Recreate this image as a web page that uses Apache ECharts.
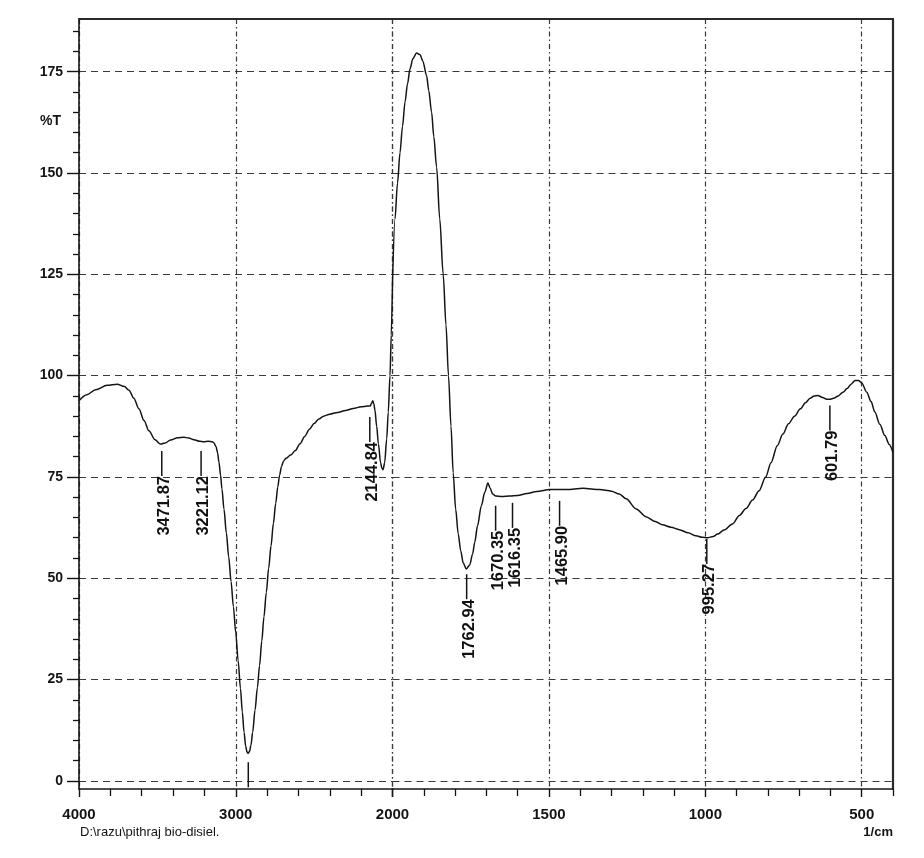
<!DOCTYPE html>
<html>
<head>
<meta charset="utf-8">
<script src="https://cdn.jsdelivr.net/npm/echarts@6/dist/echarts.min.js"></script>
<style>
html,body{margin:0;padding:0;background:#fff;}
#chart{width:924px;height:858px;}
</style>
</head>
<body>
<div id="chart"></div>
<script>
// ---- spectrum data (wavenumber 1/cm, %T) ----
const specWn = [4000,3950,3894,3820,3756,3710,3681,3650,3618,3585,3554,3515,3480,3450,3416,3370,3331,3300,3267,3230,3204,3175,3150,3139,3126,3116,3107,3097,3088,3075,3060,3045,3030,3015,3000,2985,2970,2958,2947,2937,2928,2920,2912,2903,2892,2877,2862,2848,2834,2820,2805,2790,2775,2760,2745,2732,2720,2708,2695,2680,2650,2620,2590,2560,2530,2500,2470,2440,2400,2350,2300,2250,2200,2160,2143,2133,2126,2119,2112,2101,2090,2076,2068,2060,2050,2037,2027,2016,2008,2000,
1992,1984,1976,1968,1960,1952,1944,1935,1923,1912,1903,1891,1884,1875,1868,1859,1849,1838,1829,1821,1813,1806,1798,1790,1782,1774,1764,1753,1744,1737,1728,1716,1705,1695,1688,1680,1670,1650,1626,1600,1570,1539,1497,1444,1391,1338,1300,1275,1253,1221,1190,1160,1137,1110,1083,1055,1030,1010,993,975,961,940,913,891,870,849,828,807,790,770,752,734,715,696,680,665,652,640,625,612,600,590,575,560,547,534,521,510,500,484,470,458,442,426,412,400];
const specT = [93.8,95.3,96.5,97.6,97.9,97.3,96.4,94.4,91.8,88.9,86.4,84.2,83.1,83.4,84.1,84.7,84.8,84.6,84.2,83.8,83.7,83.8,83.7,83.4,82.5,81.0,78.6,75.5,72.0,67.0,61.2,55.3,49.2,43.0,36.5,29.8,22.8,17.0,12.0,8.6,7.1,6.8,7.3,8.8,12.0,17.5,23.0,28.5,34.5,40.5,46.5,52.5,58.0,63.5,68.5,72.5,75.5,77.6,78.9,79.6,80.4,81.5,83.2,85.0,86.8,88.2,89.3,90.0,90.5,90.9,91.4,91.9,92.3,92.5,92.5,93.2,93.8,93.0,91.5,87.5,83.2,78.5,77.2,76.8,78.5,84.4,91.0,100,110,123,
138.7,147.5,155,161.5,167.5,172,175.7,178.2,179.6,179.2,177.6,174,170.3,165,159,151.5,138.7,125,112.5,100,87.5,76,67,61,56.8,53.8,52.3,53.3,56.0,58.9,63.0,67.9,71.2,73.5,72.3,70.8,70.3,70.2,70.3,70.4,70.9,71.4,71.9,71.9,72.2,71.9,71.5,70.8,69.6,67.1,65.2,64.0,63.2,62.6,62.0,61.2,60.5,60.1,60.0,60.3,60.9,61.9,63.4,65.5,67.2,69.3,71.6,75.0,78.5,82.7,85.6,88.1,90.0,91.8,93.3,94.4,95.0,95.1,94.6,94.2,94.2,94.4,95.0,95.9,96.8,97.9,98.8,98.8,98.2,95.9,93.6,91.0,88.0,85.2,83.0,81.0];

// ---- peak annotations ----
const peakWn     = [3471.87, 3221.12, 2920, 2144.84, 1762.94, 1670.35, 1616.35, 1465.90, 995.27, 601.79];
const peakLabels = ['3471.87','3221.12','', '2144.84','1762.94','1670.35','1616.35','1465.90','995.27','601.79'];
const peakTopT   = [81.4, 81.4, 4.6, 89.8, 51.0, 67.9, 68.6, 69.1, 59.7, 92.6];

// ---- axis ticks ----
const xMajorLeft   = [4000, 3000, 2000];
const xLabelsLeft  = [4000, 3000];
const xMinorLeft   = [3800,3600,3400,3200,2800,2600,2400,2200];
const xMajorRight  = [2000, 1500, 1000, 500];
const xLabelsRight = [2000, 1500, 1000, 500];
const xMinorRight  = [];
for (let v = 1900; v >= 400; v -= 100) if (v % 500 !== 0) xMinorRight.push(v);
const yMajor = [0, 25, 50, 75, 100, 125, 150, 175];
const yMinor = [];
for (let v = 0; v <= 185; v += 5) if (v % 25 !== 0) yMinor.push(v);

const Y_MIN = -2, Y_MAX = 188;

const leftData = [], rightData = [];
specWn.forEach((w, i) => {
  if (w >= 2000) leftData.push([w, specT[i]]);
  if (w <= 2000) rightData.push([w, specT[i]]);
});
const leftPeaks = [], rightPeaks = [];
peakWn.forEach((w, i) => {
  (w > 2000 ? leftPeaks : rightPeaks).push([w, peakTopT[i], i]);
});

const INK = '#141414';
const FONT = '"Liberation Sans", Arial, sans-serif';

function peakRender(params, api) {
  const p = api.coord([api.value(0), api.value(1)]);
  const idx = api.value(2);
  const len = 25;
  const children = [{
    type: 'line',
    shape: {x1: p[0], y1: p[1], x2: p[0], y2: p[1] + len},
    style: {stroke: INK, lineWidth: 1.5}
  }];
  const txt = peakLabels[idx];
  if (txt) {
    children.push({
      type: 'text',
      x: p[0] + 2.5,
      y: p[1] + len,
      rotation: Math.PI / 2,
      scaleX: 0.97,
      style: {text: txt, font: 'bold 17px ' + FONT, fill: '#111', align: 'right', verticalAlign: 'middle'}
    });
  }
  return {type: 'group', children};
}

const gridDash = {color: '#3a3a3a', width: 1.2, type: [7, 5]};
const vDash = {color: '#3a3a3a', width: 1.2, type: [5, 3, 1.5, 3]};
const plainNum = v => String(v);

function xAxes(gi, min, max, major, labels, minor) {
  return [
    { // main
      type: 'value', gridIndex: gi, min, max, inverse: true, position: 'bottom',
      axisLine: {show: true, onZero: false, lineStyle: {color: INK, width: 1.6}},
      axisTick: {show: true, customValues: major, length: 8, lineStyle: {color: INK, width: 1.4}},
      axisLabel: {show: true, customValues: labels, margin: 18, color: INK, formatter: plainNum,
        fontSize: 15, fontWeight: 'bold', fontFamily: FONT},
      splitLine: {show: true, lineStyle: vDash}
    },
    { // minor ticks
      type: 'value', gridIndex: gi, min, max, inverse: true, position: 'bottom',
      axisLine: {show: false, onZero: false},
      axisTick: {show: true, customValues: minor, length: 7, lineStyle: {color: INK, width: 1.3}},
      axisLabel: {show: false}, splitLine: {show: false}
    },
    { // top frame
      type: 'value', gridIndex: gi, min, max, inverse: true, position: 'top',
      axisLine: {show: true, onZero: false, lineStyle: {color: '#2a2a2a', width: 2}},
      axisTick: {show: false}, axisLabel: {show: false}, splitLine: {show: false}
    }
  ];
}

const chart = echarts.init(document.getElementById('chart'), null, {renderer: 'canvas'});
chart.setOption({
  animation: false,
  backgroundColor: '#ffffff',
  grid: [
    {left: 79, top: 19, width: 313.5, height: 770},
    {left: 392.5, top: 19, width: 500.5, height: 770}
  ],
  xAxis: [].concat(
    xAxes(0, 2000, 4000, xMajorLeft, xLabelsLeft, xMinorLeft),
    xAxes(1, 400, 2000, xMajorRight, xLabelsRight, xMinorRight)
  ),
  yAxis: [
    { // 0: main left
      type: 'value', gridIndex: 0, min: Y_MIN, max: Y_MAX, position: 'left',
      axisLine: {show: true, onZero: false, lineStyle: {color: INK, width: 1.6}},
      axisTick: {show: true, customValues: yMajor, length: 12, lineStyle: {color: INK, width: 1.4}},
      axisLabel: {show: true, customValues: yMajor, margin: 16, color: INK, formatter: plainNum,
        fontSize: 14, fontWeight: 'bold', fontFamily: FONT},
      splitLine: {show: true, lineStyle: gridDash}
    },
    { // 1: minor ticks left
      type: 'value', gridIndex: 0, min: Y_MIN, max: Y_MAX, position: 'left',
      axisLine: {show: false, onZero: false},
      axisTick: {show: true, customValues: yMinor, length: 6, lineStyle: {color: INK, width: 1.3}},
      axisLabel: {show: false}, splitLine: {show: false}
    },
    { // 2: right grid hidden (gridlines)
      type: 'value', gridIndex: 1, min: Y_MIN, max: Y_MAX, position: 'left',
      axisLine: {show: false, onZero: false},
      axisTick: {show: false, customValues: yMajor},
      axisLabel: {show: false},
      splitLine: {show: true, lineStyle: gridDash}
    },
    { // 3: right frame
      type: 'value', gridIndex: 1, min: Y_MIN, max: Y_MAX, position: 'right',
      axisLine: {show: true, onZero: false, lineStyle: {color: '#2a2a2a', width: 2.2}},
      axisTick: {show: false}, axisLabel: {show: false}, splitLine: {show: false}
    }
  ],
  series: [
    {type: 'line', xAxisIndex: 0, yAxisIndex: 0, data: leftData, showSymbol: false,
      smooth: 0.3, smoothMonotone: 'x', lineStyle: {color: INK, width: 1.5}, silent: true},
    {type: 'line', xAxisIndex: 3, yAxisIndex: 2, data: rightData, showSymbol: false,
      smooth: 0.3, smoothMonotone: 'x', lineStyle: {color: INK, width: 1.5}, silent: true},
    {type: 'custom', xAxisIndex: 0, yAxisIndex: 0, data: leftPeaks, renderItem: peakRender, silent: true, z: 5},
    {type: 'custom', xAxisIndex: 3, yAxisIndex: 2, data: rightPeaks, renderItem: peakRender, silent: true, z: 5}
  ],
  graphic: [
    {type: 'text', left: 40, top: 114, style: {text: '%T', font: 'bold 14px ' + FONT, fill: INK}},
    {type: 'text', left: 80, top: 826, style: {text: 'D:\\razu\\pithraj bio-disiel.', font: '13px ' + FONT, fill: INK}},
    {type: 'text', right: 31, top: 826, style: {text: '1/cm', font: 'bold 13px ' + FONT, fill: INK}}
  ]
});
</script>
</body>
</html>
